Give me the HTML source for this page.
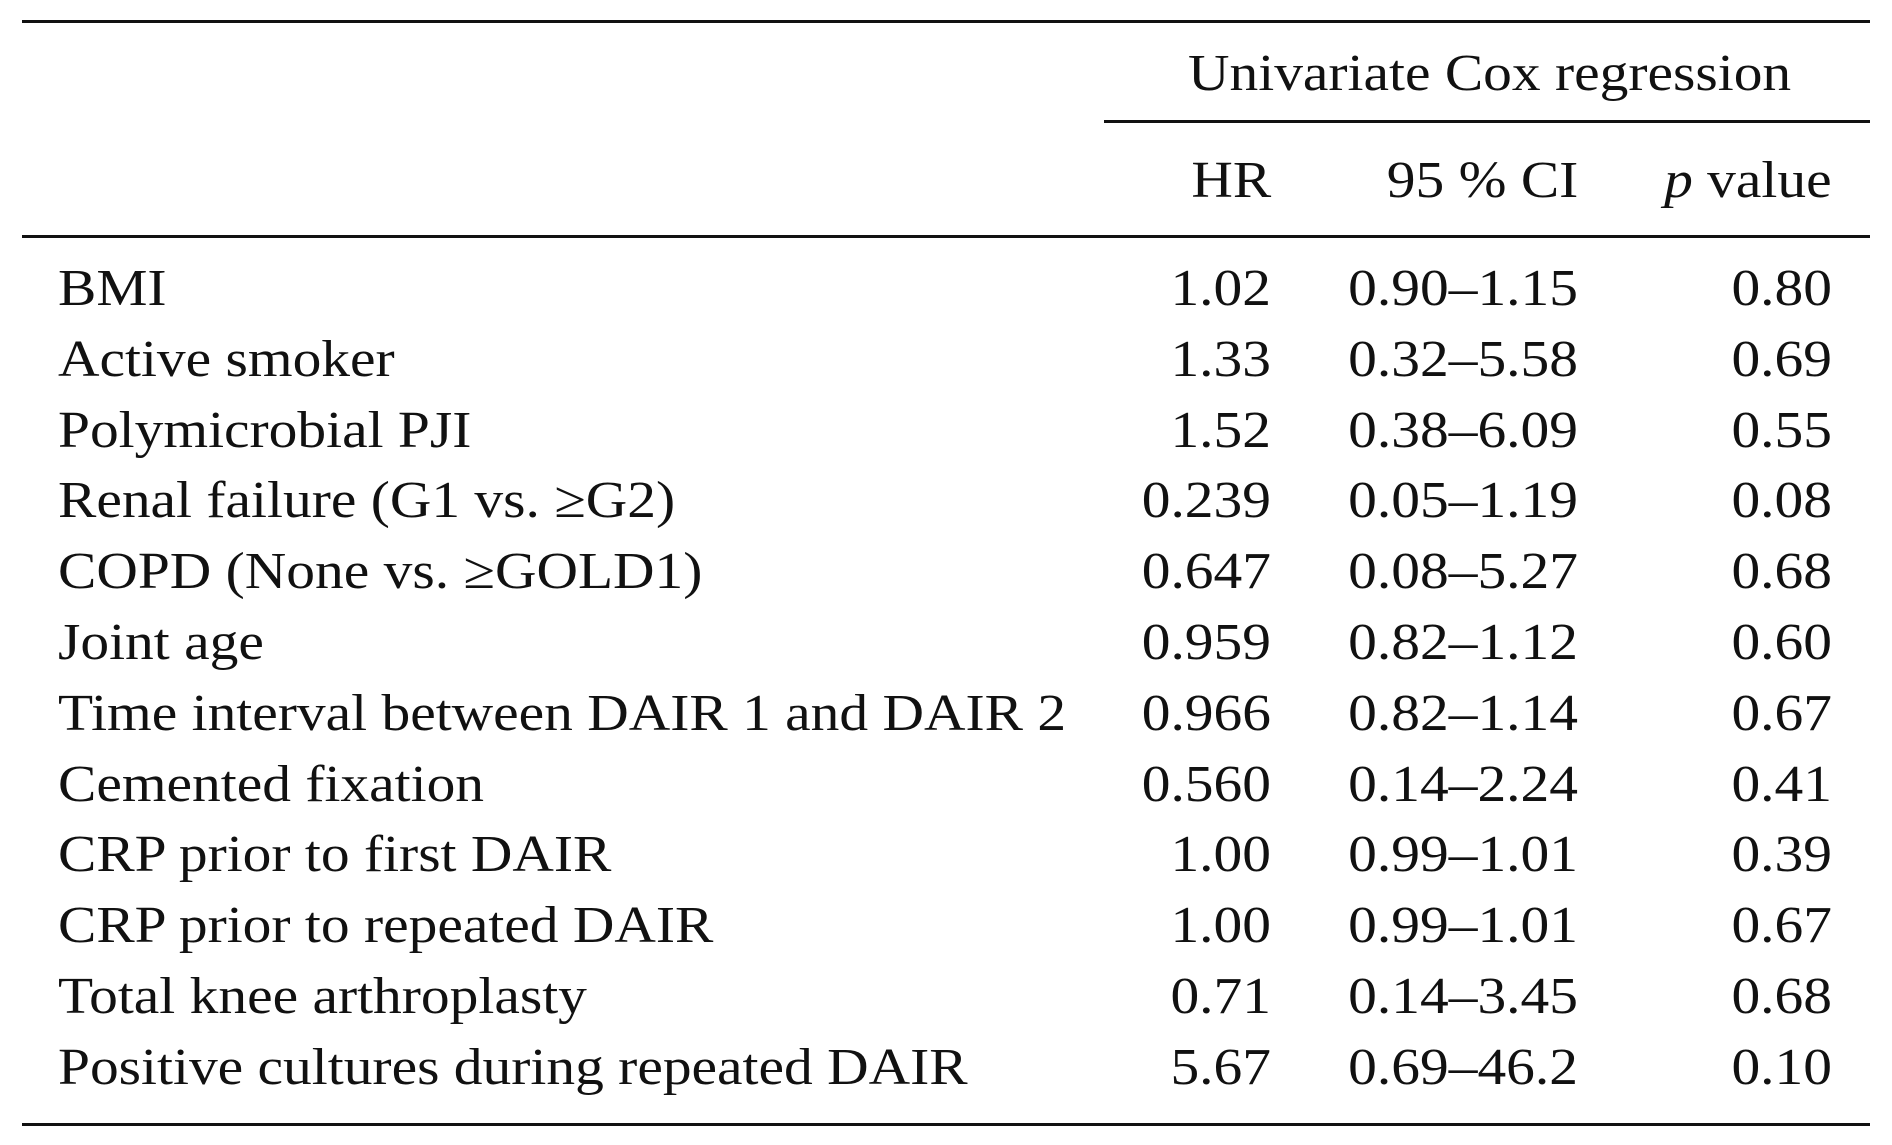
<!DOCTYPE html>
<html><head><meta charset="utf-8"><style>
html,body{margin:0;padding:0;background:#fff;}
body{width:1892px;height:1145px;position:relative;overflow:hidden;font-family:"Liberation Serif",serif;font-size:52px;color:#111;}
.r{position:absolute;background:#111;height:2.5px;}
.t{position:absolute;white-space:nowrap;line-height:1;transform:scaleX(1.105);}
.l{left:58px;transform-origin:left center;}
.hr,.ci,.pv{text-align:right;transform-origin:right center;}
.hr{right:621px;}
.ci{right:314px;}
.pv{right:60px;}
</style></head><body>
<div class="r" style="left:22px;width:1848px;top:20px;"></div>
<div class="t" style="left:1188px;top:48px;transform-origin:left center;">Univariate Cox regression</div>
<div class="r" style="left:1104px;width:766px;top:120px;"></div>
<div class="t hr" style="top:155px;">HR</div>
<div class="t ci" style="top:155px;">95 % CI</div>
<div class="t pv" style="top:155px;"><i>p</i> value</div>
<div class="r" style="left:22px;width:1848px;top:235px;"></div>
<div id="rows"></div>
<div class="r" style="left:22px;width:1848px;top:1123px;"></div>
<script>
var d=[["BMI","1.02","0.90–1.15","0.80"],["Active smoker","1.33","0.32–5.58","0.69"],["Polymicrobial PJI","1.52","0.38–6.09","0.55"],["Renal failure (G1 vs. ≥G2)","0.239","0.05–1.19","0.08"],["COPD (None vs. ≥GOLD1)","0.647","0.08–5.27","0.68"],["Joint age","0.959","0.82–1.12","0.60"],["Time interval between DAIR 1 and DAIR 2","0.966","0.82–1.14","0.67"],["Cemented fixation","0.560","0.14–2.24","0.41"],["CRP prior to first DAIR","1.00","0.99–1.01","0.39"],["CRP prior to repeated DAIR","1.00","0.99–1.01","0.67"],["Total knee arthroplasty","0.71","0.14–3.45","0.68"],["Positive cultures during repeated DAIR","5.67","0.69–46.2","0.10"]];
var h="";d.forEach(function(r,i){var y=263+i*70.8;
h+='<div class="t l" style="top:'+y+'px">'+r[0]+'</div><div class="t hr" style="top:'+y+'px">'+r[1]+'</div><div class="t ci" style="top:'+y+'px">'+r[2]+'</div><div class="t pv" style="top:'+y+'px">'+r[3]+'</div>';});
document.getElementById("rows").innerHTML=h;
</script>
</body></html>
